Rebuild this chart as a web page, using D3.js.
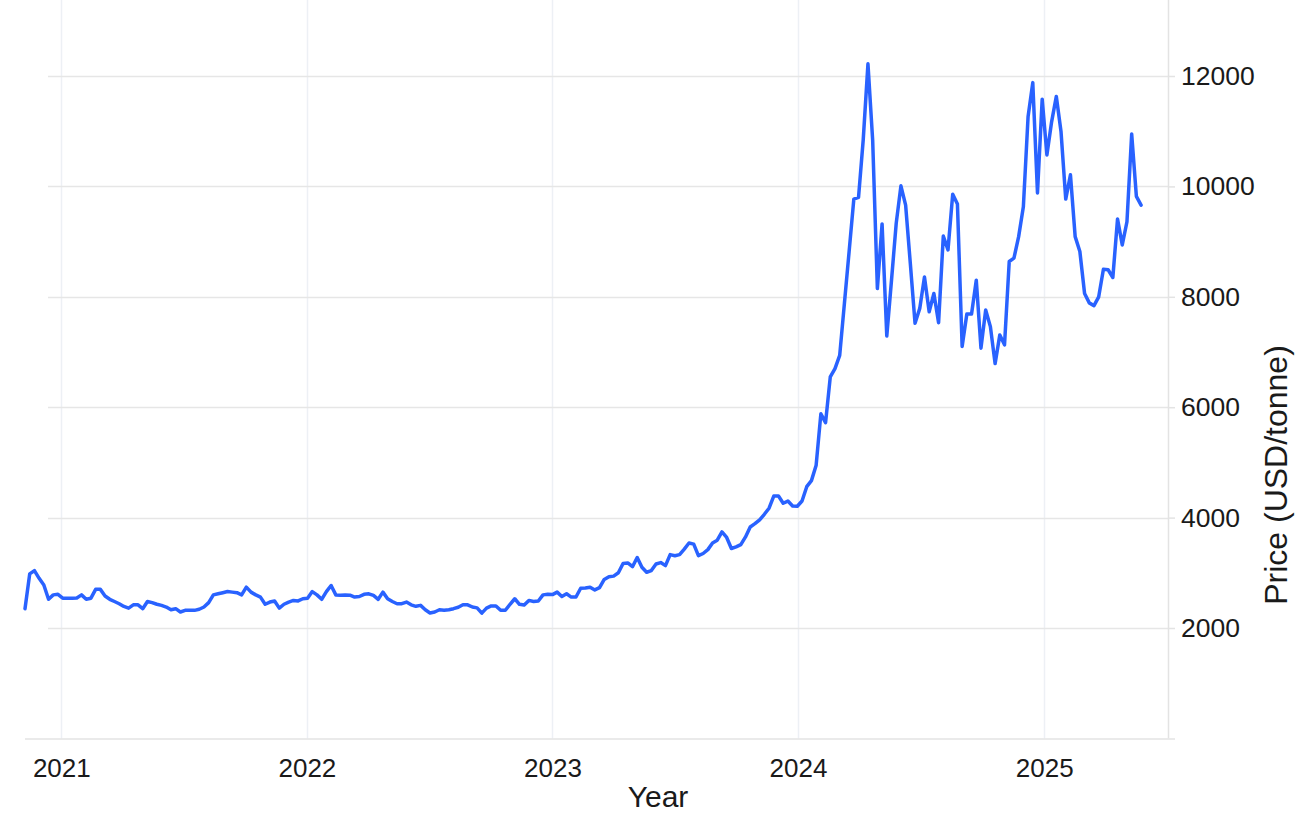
<!DOCTYPE html>
<html>
<head>
<meta charset="utf-8">
<script src="https://cdn.jsdelivr.net/npm/d3@7"></script>
<style>
  html, body { margin: 0; padding: 0; background: #ffffff; }
  svg { display: block; }
  text { font-family: "Liberation Sans", Arial, sans-serif; fill: #1a1a1a; }
</style>
</head>
<body>
<svg id="chart" width="1308" height="817"></svg>
<script>
// ---- data ----
const startDate = "2020-11-08";          // first weekly observation
const prices = [
  2350, 2980, 3040, 2900, 2780, 2520, 2600, 2610, 2540, 2540,
  2540, 2545, 2600, 2520, 2540, 2700, 2700, 2580, 2520, 2480,
  2440, 2390, 2360, 2420, 2420, 2350, 2480, 2460, 2430, 2410,
  2380, 2330, 2350, 2290, 2320, 2320, 2320, 2340, 2380, 2460,
  2600, 2620, 2640, 2660, 2650, 2640, 2600, 2740, 2650, 2600,
  2560, 2430, 2470, 2490, 2360, 2430, 2470, 2500, 2490, 2530,
  2540, 2660, 2600, 2520, 2660, 2770, 2600, 2593, 2600, 2595,
  2560, 2570, 2610, 2620, 2590, 2520, 2650, 2530, 2480, 2440,
  2440, 2470, 2420, 2393, 2410, 2330, 2272, 2290, 2330, 2320,
  2330, 2350, 2375, 2420, 2420, 2380, 2365, 2270, 2360, 2400,
  2400, 2320, 2321, 2430, 2530, 2430, 2415, 2500, 2480, 2490,
  2600, 2610, 2605, 2650, 2570, 2620, 2560, 2562, 2720, 2725,
  2740, 2690, 2730, 2880, 2930, 2940, 3000, 3170, 3178, 3110,
  3276, 3100, 3010, 3040, 3160, 3185, 3130, 3330, 3310, 3330,
  3430, 3540, 3520, 3310, 3350, 3420, 3540, 3590, 3740, 3640,
  3440, 3470, 3510, 3650, 3830, 3890, 3960, 4060, 4170, 4390,
  4390, 4260, 4300, 4210, 4206, 4300, 4560, 4670, 4950, 5880,
  5720, 6550, 6700, 6940, 7880, 8820, 9770, 9800, 10850, 12220,
  10840, 8150, 9320, 7290, 8300, 9330, 10010, 9660, 8600, 7520,
  7790, 8360, 7730, 8060, 7530, 9100, 8850, 9860, 9680, 7100,
  7690, 7690, 8300, 7070, 7760, 7460, 6790, 7310, 7130, 8640,
  8700, 9090, 9630, 11260, 11880, 9880, 11580, 10570, 11170, 11630,
  10990, 9770, 10210, 9090, 8820, 8060, 7890, 7840, 8000, 8500,
  8490, 8350, 9410, 8940, 9360, 10950, 9820, 9660
];
const yearTicks = ["2021", "2022", "2023", "2024", "2025"];
const priceTicks = [2000, 4000, 6000, 8000, 10000, 12000];
const xTitle = "Year";
const yTitle = "Price (USD/tonne)";

// ---- build series ----
const parse = d3.utcParse("%Y-%m-%d");
const t0 = parse(startDate);
const series = prices.map((v, i) => ({ date: d3.utcWeek.offset(t0, i), value: v }));

// ---- layout ----
const svg = d3.select("#chart");
const plot = { left: 25, right: 1168, top: 0, bottom: 738.4 };

const x = d3.scaleUtc()
  .domain([t0, parse("2025-07-04")])
  .range([plot.left, plot.right]);
const y = d3.scaleLinear()
  .domain([0, 13377])
  .range([plot.bottom, plot.top]);

const yearDates = yearTicks.map(s => parse(s + "-01-01"));

// vertical grid
svg.append("g")
  .selectAll("line")
  .data(yearDates)
  .join("line")
  .attr("x1", d => Math.round(x(d)) + 0.5)
  .attr("x2", d => Math.round(x(d)) + 0.5)
  .attr("y1", plot.top)
  .attr("y2", plot.bottom)
  .attr("stroke", "#edf0f5")
  .attr("stroke-width", 1.5);

// horizontal grid
svg.append("g")
  .selectAll("line")
  .data(priceTicks)
  .join("line")
  .attr("x1", 48)
  .attr("x2", plot.right)
  .attr("y1", d => Math.round(y(d)) + 0.5)
  .attr("y2", d => Math.round(y(d)) + 0.5)
  .attr("stroke", "#e6e6e6")
  .attr("stroke-width", 1.5);

// bottom axis
const xAxis = d3.axisBottom(x)
  .tickValues(yearDates)
  .tickFormat(d3.utcFormat("%Y"))
  .tickSize(0)
  .tickPadding(20);
const gx = svg.append("g")
  .attr("transform", `translate(0,${plot.bottom})`)
  .call(xAxis);
gx.select(".domain").remove();
gx.append("line")
  .attr("x1", plot.left).attr("x2", plot.right + 7)
  .attr("y1", 0.5).attr("y2", 0.5)
  .attr("stroke", "#e3e3e3").attr("stroke-width", 1.5);
gx.selectAll(".tick text")
  .attr("font-size", 26)
  .attr("font-family", "Liberation Sans, Arial, sans-serif")
  .attr("fill", "#1a1a1a");

// right axis
const yAxis = d3.axisRight(y)
  .tickValues(priceTicks)
  .tickFormat(d3.format("d"))
  .tickSize(7)
  .tickPadding(6);
const gy = svg.append("g")
  .attr("transform", `translate(${plot.right},0)`)
  .call(yAxis);
gy.select(".domain").attr("stroke", "#e3e3e3").attr("stroke-width", 1.5)
  .attr("d", `M0.5,${plot.top}V${plot.bottom}`);
gy.selectAll(".tick line").attr("stroke", "#e3e3e3").attr("stroke-width", 1.5);
gy.selectAll(".tick text")
  .attr("font-size", 26.5)
  .attr("font-family", "Liberation Sans, Arial, sans-serif")
  .attr("fill", "#1a1a1a");

// line
const line = d3.line()
  .x(d => x(d.date))
  .y(d => y(d.value));
svg.append("path")
  .datum(series)
  .attr("d", line)
  .attr("fill", "none")
  .attr("stroke", "#2962ff")
  .attr("stroke-width", 3.5)
  .attr("stroke-linejoin", "round")
  .attr("stroke-linecap", "round");

// titles
svg.append("text")
  .attr("x", 658)
  .attr("y", 807)
  .attr("text-anchor", "middle")
  .attr("font-size", 30)
  .text(xTitle);

svg.append("text")
  .attr("transform", "translate(1276,475) rotate(-90)")
  .attr("text-anchor", "middle")
  .attr("dominant-baseline", "central")
  .attr("font-size", 32)
  .text(yTitle);
</script>
</body>
</html>
